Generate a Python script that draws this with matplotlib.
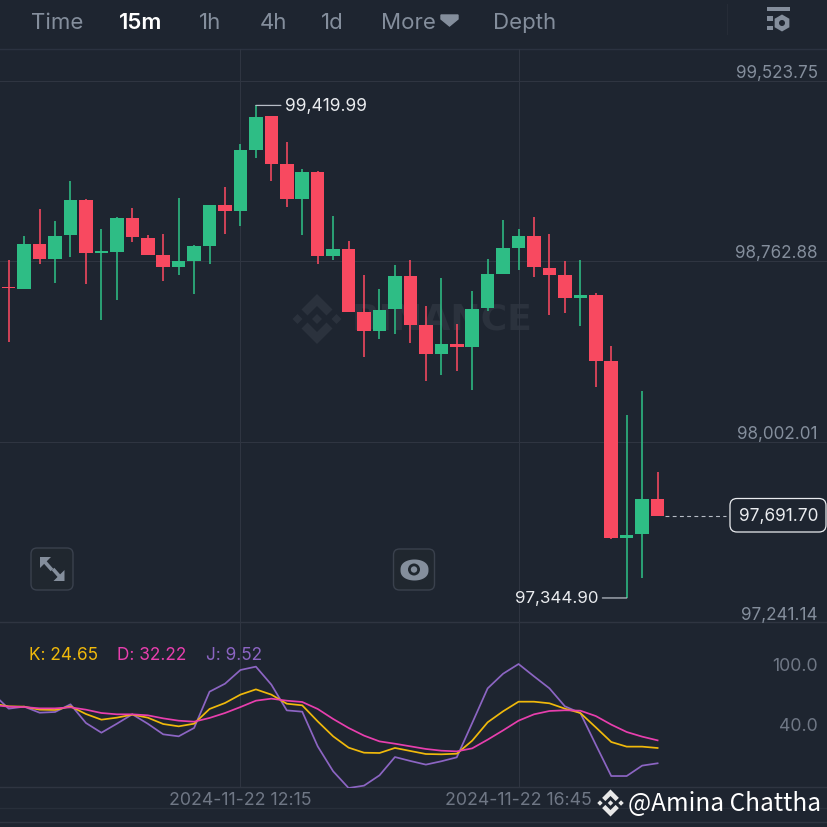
import numpy as np
import matplotlib
matplotlib.use('Agg')
import matplotlib.pyplot as plt
from matplotlib.patches import FancyBboxPatch, Polygon, Circle, Rectangle, RegularPolygon

BG = '#1e2530'
GREEN = '#2ebd85'
RED = '#f84960'
GRID = '#2f3541'
GRAY = '#848e9c'
LIGHT = '#eaecef'

plt.rcParams['font.family'] = ['Inter', 'DejaVu Sans']

# candles
opens = [98655, 98648, 98836, 98774, 98872, 99023, 98798, 98801, 98946, 98863, 98791,
         98739, 98766, 98828, 99000, 98974, 99233, 99374, 99173, 99026, 99138, 98787,
         98815, 98551, 98470, 98561, 98701, 98496, 98371, 98415, 98401, 98565, 98711,
         98821, 98870, 98735, 98706, 98607, 98621, 98344, 97598, 97613, 97763]
highs = [98769, 98868, 98984, 98933, 99100, 99025, 98899, 98950, 98988, 98875, 98878,
         99030, 98830, 99002, 99075, 99257, 99419.99, 99377, 99266, 99152, 99145, 98955,
         98847, 98704, 98648, 98749, 98767, 98575, 98695, 98500, 98640, 98773, 98937,
         98901, 98948, 98878, 98763, 98769, 98628, 98408, 98116, 98215, 97876]
lows = [98423, 98648, 98752, 98670, 98783, 98668, 98518, 98600, 98845, 98791, 98679,
        98706, 98626, 98752, 98877, 98913, 99198, 99100, 98990, 98875, 98752, 98770,
        98551, 98359, 98434, 98457, 98419, 98257, 98286, 98300, 98221, 98555, 98711,
        98725, 98697, 98537, 98545, 98492, 98232, 97593, 97344.90, 97427, 97691.70]
closes = [98649, 98836, 98774, 98870, 99023, 98798, 98805, 98946, 98864, 98791, 98739,
          98766, 98828, 99000, 98974, 99233, 99372, 99174, 99026, 99138, 98787, 98815,
          98551, 98470, 98559, 98701, 98496, 98371, 98415, 98401, 98564, 98711, 98819,
          98870, 98738, 98707, 98607, 98620, 98345, 97598, 97610, 97763, 97691.70]

# KDJ, first point sits off the left edge
k_vals = [68.5, 65.9, 65.6, 62.6, 62.3, 65.9, 58.3, 52.7, 54.7, 57.7, 54.7, 48.4, 46.1, 48.7,
          63.3, 69.2, 77.5, 82.7, 77.5, 68.5, 66.9, 51.0, 36.2, 25.0, 20.0, 19.7, 24.7, 21.7,
          18.7, 18.4, 19.0, 31.9, 50.1, 61.0, 70.5, 70.5, 68.9, 63.6, 59.3, 45.1, 30.6, 26.0,
          26.0, 24.65]
d_vals = [67.2, 65.6, 65.2, 63.9, 63.9, 64.9, 62.6, 59.3, 58.0, 58.0, 57.0, 54.0, 51.7, 50.7,
          54.4, 59.3, 65.2, 71.5, 73.5, 71.5, 70.2, 63.3, 53.4, 44.5, 36.9, 31.2, 28.9, 26.3,
          23.7, 22.0, 21.3, 24.3, 32.9, 42.1, 51.7, 58.0, 61.3, 62.0, 61.6, 56.3, 47.8, 40.5,
          35.9, 32.22]
j_vals = [78.1, 63.6, 65.6, 59.6, 60.3, 67.9, 49.4, 39.8, 48.7, 58.0, 48.7, 38.2, 36.2, 44.5,
          80.4, 88.3, 101.9, 105.2, 87.4, 61.9, 60.6, 26.3, 1.6, -15.0, -12.6, -2.4, 15.7, 11.8,
          8.2, 11.5, 15.4, 49.4, 83.7, 98.2, 107.8, 95.6, 83.7, 65.9, 59.3, 27.9, -3.1, -3.1,
          7.2, 9.52]

price_ticks = [99523.75, 98762.88, 98002.01, 97241.14]
price_labels = ['99,523.75', '98,762.88', '98,002.01', '97,241.14']
kdj_ticks = [100.0, 40.0]
kdj_labels = ['100.0', '40.0']
time_idx = [15, 33]
time_labels = ['2024-11-22 12:15', '2024-11-22 16:45']
tabs = ['Time', '15m', '1h', '4h', '1d', 'More', 'Depth']
tab_x = [31, 119, 199, 260, 321, 381, 493]

SIZE = 828.0
X0, DX = 8.7, 15.45          # pixel of candle 0, pixels per candle
P_PX = 0.23736               # pixels per dollar
Y_REF = 262.4                # pixel of the 98,762.88 line
TOP, MID, BOT = 49.5, 623.3, 788.5
FS = 12.3


def to_frac(y):
    return 1 - y / SIZE


fig = plt.figure(figsize=(8.28, 8.28), dpi=100, facecolor=BG)
xlim = ((0 - X0) / DX, (SIZE - X0) / DX)

# pixel layer behind the charts
bg = fig.add_axes([0, 0, 1, 1], zorder=0)
bg.set_xlim(0, SIZE)
bg.set_ylim(SIZE, 0)
bg.axis('off')

# price panel
ax = fig.add_axes([0, to_frac(MID), 1, (MID - TOP) / SIZE], zorder=1)
ax.patch.set_alpha(0)
ax.set_xlim(xlim)
ax.set_ylim(98762.88 - (MID - Y_REF) / P_PX, 98762.88 + (Y_REF - TOP) / P_PX)
for s in ax.spines.values():
    s.set_visible(False)
ax.set_xticks([])
ax.set_yticks([])

idx = np.arange(len(opens))
o = np.array(opens)
h = np.array(highs)
l = np.array(lows)
c = np.array(closes)
colors = np.where(c >= o, GREEN, RED)

for t in price_ticks:
    ax.axhline(t, color=GRID, lw=0.8, zorder=1)
for t in time_idx:
    ax.axvline(t, color=GRID, lw=0.8, zorder=1)
for t, lab in zip(price_ticks, price_labels):
    ax.annotate(lab, (1, t), xycoords=ax.get_yaxis_transform(), xytext=(-7.5, 0),
                textcoords='offset points', ha='right', va='bottom', color=GRAY, fontsize=FS)

ax.vlines(idx, l, h, colors=colors, lw=1.15, zorder=3)
ax.bar(idx, np.abs(c - o), bottom=np.minimum(o, c), width=0.88, color=colors, zorder=4)

# high / low / last markers
hi = int(np.argmax(h))
lo = int(np.argmin(l))
ax.annotate(f'{h[hi]:,.2f}', (hi, h[hi]), xytext=(21, 0), textcoords='offset points',
            color=LIGHT, fontsize=12.5, ha='left', va='center',
            arrowprops=dict(arrowstyle='-', color='#b7bdc6', lw=0.9, shrinkA=1, shrinkB=0))
ax.annotate(f'{l[lo]:,.2f}', (lo, l[lo]), xytext=(-20.5, 0), textcoords='offset points',
            color=LIGHT, fontsize=12.2, ha='right', va='center',
            arrowprops=dict(arrowstyle='-', color='#b7bdc6', lw=0.9, shrinkA=1, shrinkB=0))
ax.plot([idx[-1] + 0.45, (726 - X0) / DX], [c[-1], c[-1]], color='#b7bdc6', lw=0.8,
        ls=(0, (3.5, 3)), zorder=3)
ax.annotate(f'{c[-1]:,.2f}', (1, c[-1]), xycoords=ax.get_yaxis_transform(), xytext=(-7.2, 0),
            textcoords='offset points', ha='right', va='center', color=LIGHT, fontsize=12.4,
            zorder=6)

# kdj panel
ax2 = fig.add_axes([0, to_frac(BOT), 1, (BOT - MID) / SIZE], zorder=1)
ax2.patch.set_alpha(0)
ax2.set_xlim(xlim)
kdj_y = lambda y: 24.65 + (749.0 - y) / 1.01
ax2.set_ylim(kdj_y(BOT), kdj_y(MID))
for s in ax2.spines.values():
    s.set_visible(False)
ax2.set_xticks([])
ax2.set_yticks([])
x2 = np.arange(-1, len(k_vals) - 1)
for t in time_idx:
    ax2.axvline(t, color=GRID, lw=0.8, zorder=1)
ax2.plot(x2, j_vals, color='#8c65c3', lw=1.25, zorder=3)
ax2.plot(x2, k_vals, color='#f0b90b', lw=1.25, zorder=4)
ax2.plot(x2, d_vals, color='#e83fae', lw=1.25, zorder=5)
for t, lab in zip(kdj_ticks, kdj_labels):
    ax2.annotate(lab, (1, t), xycoords=ax2.get_yaxis_transform(), xytext=(-7.5, -1.2),
                 textcoords='offset points', ha='right', va='bottom', color='#6f7785', fontsize=12.8)
for t, lab in zip(time_idx, time_labels):
    ax2.annotate(lab, (t, 0), xycoords=ax2.get_xaxis_transform(), xytext=(0, -8.5),
                 textcoords='offset points', ha='center', va='center', color='#6f7785', fontsize=12.8)
bg.text(29.5, 655.5, f'K: {k_vals[-1]:.2f}', color='#f0b90b', fontsize=12.4, va='center')
bg.text(117, 655.5, f'D: {d_vals[-1]:.2f}', color='#e83fae', fontsize=12.4, va='center')
bg.text(206, 655.5, f'J: {j_vals[-1]:.2f}', color='#8c65c3', fontsize=12.4, va='center')

# panel separators
for y, col in [(TOP, '#2b3240'), (MID, GRID), (BOT, GRID), (809.5, '#282f3a'), (823.5, GRID)]:
    bg.plot([0, SIZE], [y, y], color=col, lw=1.0)
bg.plot([727, 727], [5, 35], color='#262c37', lw=0.8)

# toolbar
for lab, x in zip(tabs, tab_x):
    active = lab == '15m'
    bg.text(x, 23, lab, color='#ffffff' if active else GRAY, fontsize=16, va='center',
            fontweight='semibold' if active else 'normal')
bg.add_patch(Polygon([[441, 16], [458, 16], [458, 20], [449.5, 27], [441, 20]], color=GRAY))
bg.add_patch(Rectangle((767, 8), 23, 4, color=GRAY, lw=0))
bg.add_patch(Rectangle((767, 17), 6, 5, color=GRAY, lw=0))
bg.add_patch(Rectangle((767, 27), 6, 4, color=GRAY, lw=0))
bg.add_patch(RegularPolygon((782, 24), 6, radius=8.5, color=GRAY, lw=0))
bg.add_patch(Circle((782, 24), 3, color=BG, lw=0))


def binance_logo(x, y, r, color, zorder=1):
    # four diamonds plus the two chevrons, r is the half height
    s = r * 0.2
    for cx, cy in [(x, y), (x - r * 0.78, y), (x + r * 0.78, y)]:
        bg.add_patch(Polygon([[cx - s, cy], [cx, cy - s], [cx + s, cy], [cx, cy + s]],
                             color=color, zorder=zorder, lw=0))
    for sg in (-1, 1):
        pts = [[x, y + sg * r], [x + r * 0.62, y + sg * r * 0.38], [x + r * 0.38, y + sg * r * 0.14],
               [x, y + sg * r * 0.52], [x - r * 0.38, y + sg * r * 0.14],
               [x - r * 0.62, y + sg * r * 0.38]]
        bg.add_patch(Polygon(pts, color=color, zorder=zorder, lw=0))


# faint watermark
binance_logo(317, 320, 25, '#2b323d')
bg.text(533, 320, 'BINANCE', color='#2b323d', fontsize=26, fontweight='bold', va='center', ha='right',
        family=['DejaVu Sans'])

# buttons
for x0, y0, size in [(31, 549, 42), (393.5, 550, 41)]:
    bg.add_patch(FancyBboxPatch((x0 + 4, y0 + 4), size - 8, size - 8, boxstyle='round,pad=4,rounding_size=6',
                                fc='#20272f', ec='#3a414d', lw=1.0))
bg.add_patch(Polygon([[40, 558], [51, 558], [40, 569]], color=GRAY, lw=0))
bg.plot([44, 52], [562, 571], color=GRAY, lw=2.6, solid_capstyle='butt')
bg.add_patch(Polygon([[64.5, 582], [53.5, 582], [64.5, 571]], color=GRAY, lw=0))
bg.plot([60, 53], [578, 570], color=GRAY, lw=2.6, solid_capstyle='butt')
# eye: lens outline with a pupil
t_eye = np.linspace(0, np.pi, 30)
eye_x = 414 - 14 * np.cos(t_eye)
eye_up = 570.5 - 10.5 * np.sin(t_eye) ** 0.8
eye_dn = 570.5 + 10.5 * np.sin(t_eye) ** 0.8
bg.fill_between(eye_x, eye_up, eye_dn, color=GRAY, lw=0)
bg.add_patch(Circle((414, 570.5), 6, color='#20272f', lw=0))
bg.add_patch(Circle((414, 570.5), 3.2, color=GRAY, lw=0))

# last price box
bg.add_patch(FancyBboxPatch((736, 505.5), 84, 21.5, boxstyle='round,pad=6,rounding_size=7',
                            fc=BG, ec=LIGHT, lw=0.9, zorder=2))

# screenshot credit
binance_logo(610.5, 804, 13.5, '#e8e8e8', zorder=5)
bg.text(628, 804, '@Amina Chattha', color='#ffffff', fontsize=17.6, va='center',
        family=['Noto Sans CJK SC', 'DejaVu Sans'], zorder=5)

fig.savefig('out.png', dpi=100, facecolor=BG)
